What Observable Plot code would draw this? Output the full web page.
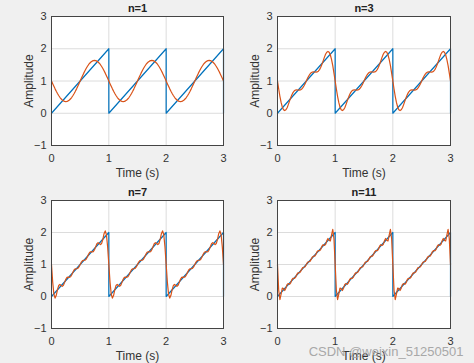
<!DOCTYPE html>
<html>
<head>
<meta charset="utf-8">
<script src="https://cdn.jsdelivr.net/npm/d3@7"></script>
<script src="https://cdn.jsdelivr.net/npm/@observablehq/plot@0.6"></script>
<style>
html, body { margin: 0; padding: 0; background: #f0f0f0; }
#fig { position: relative; width: 474px; height: 363px; background: #f0f0f0; overflow: hidden; }
#fig svg { position: absolute; }
</style>
</head>
<body>
<div id="fig"></div>
<script>
// ---- data ----
const sawTime  = [0, 1, 1, 2, 2, 3, 3];
const sawValue = [0, 2, 0, 2, 0, 2, 0];
const samplesPerSecond = 48;

const approxN1 = [
1.000,.917,.835,.756,.682,.612,.550,.495,.449,.412,.385,.369,.363,.369,.385,.412,.449,.495,.550,.612,.682,.756,.835,.917,1.000,1.083,1.165,1.244,1.318,1.388,1.450,1.505,1.551,1.588,1.615,1.631,1.637,1.631,1.615,1.588,1.551,1.505,1.450,1.388,1.318,1.244,1.165,1.083,
1.000,.917,.835,.756,.682,.612,.550,.495,.449,.412,.385,.369,.363,.369,.385,.412,.449,.495,.550,.612,.682,.756,.835,.917,1.000,1.083,1.165,1.244,1.318,1.388,1.450,1.505,1.551,1.588,1.615,1.631,1.637,1.631,1.615,1.588,1.551,1.505,1.450,1.388,1.318,1.244,1.165,1.083,
1.000,.917,.835,.756,.682,.612,.550,.495,.449,.412,.385,.369,.363,.369,.385,.412,.449,.495,.550,.612,.682,.756,.835,.917,1.000,1.083,1.165,1.244,1.318,1.388,1.450,1.505,1.551,1.588,1.615,1.631,1.637,1.631,1.615,1.588,1.551,1.505,1.450,1.388,1.318,1.244,1.165,1.083,
1.000];

const approxN3 = [
1.000,.753,.526,.335,.194,.109,.082,.106,.173,.268,.376,.483,.576,.647,.694,.718,.724,.721,.718,.724,.745,.785,.844,.918,1.000,1.082,1.156,1.215,1.255,1.276,1.282,1.279,1.276,1.282,1.306,1.353,1.424,1.517,1.624,1.732,1.827,1.894,1.918,1.891,1.806,1.665,1.474,1.247,
1.000,.753,.526,.335,.194,.109,.082,.106,.173,.268,.376,.483,.576,.647,.694,.718,.724,.721,.718,.724,.745,.785,.844,.918,1.000,1.082,1.156,1.215,1.255,1.276,1.282,1.279,1.276,1.282,1.306,1.353,1.424,1.517,1.624,1.732,1.827,1.894,1.918,1.891,1.806,1.665,1.474,1.247,
1.000,.753,.526,.335,.194,.109,.082,.106,.173,.268,.376,.483,.576,.647,.694,.718,.724,.721,.718,.724,.745,.785,.844,.918,1.000,1.082,1.156,1.215,1.255,1.276,1.282,1.279,1.276,1.282,1.306,1.353,1.424,1.517,1.624,1.732,1.827,1.894,1.918,1.891,1.806,1.665,1.474,1.247,
1.000];

const approxN7 = [
1.000,.449,.071,-.051,.038,.211,.342,.375,.342,.317,.351,.441,.539,.597,.606,.599,.618,.681,.766,.835,.865,.867,.877,.923,1.000,1.077,1.123,1.133,1.135,1.165,1.234,1.319,1.382,1.401,1.394,1.403,1.461,1.559,1.649,1.683,1.658,1.625,1.658,1.789,1.962,2.051,1.929,1.551,
1.000,.449,.071,-.051,.038,.211,.342,.375,.342,.317,.351,.441,.539,.597,.606,.599,.618,.681,.766,.835,.865,.867,.877,.923,1.000,1.077,1.123,1.133,1.135,1.165,1.234,1.319,1.382,1.401,1.394,1.403,1.461,1.559,1.649,1.683,1.658,1.625,1.658,1.789,1.962,2.051,1.929,1.551,
1.000,.449,.071,-.051,.038,.211,.342,.375,.342,.317,.351,.441,.539,.597,.606,.599,.618,.681,.766,.835,.865,.867,.877,.923,1.000,1.077,1.123,1.133,1.135,1.165,1.234,1.319,1.382,1.401,1.394,1.403,1.461,1.559,1.649,1.683,1.658,1.625,1.658,1.789,1.962,2.051,1.929,1.551,
1.000];

const approxN11 = [
1.000,.196,-.095,.074,.262,.245,.187,.260,.379,.405,.382,.429,.526,.570,.563,.597,.682,.736,.739,.764,.840,.903,.913,.931,1.000,1.069,1.087,1.097,1.160,1.236,1.261,1.264,1.318,1.403,1.437,1.430,1.474,1.571,1.618,1.595,1.621,1.740,1.813,1.755,1.738,1.926,2.095,1.804,
1.000,.196,-.095,.074,.262,.245,.187,.260,.379,.405,.382,.429,.526,.570,.563,.597,.682,.736,.739,.764,.840,.903,.913,.931,1.000,1.069,1.087,1.097,1.160,1.236,1.261,1.264,1.318,1.403,1.437,1.430,1.474,1.571,1.618,1.595,1.621,1.740,1.813,1.755,1.738,1.926,2.095,1.804,
1.000,.196,-.095,.074,.262,.245,.187,.260,.379,.405,.382,.429,.526,.570,.563,.597,.682,.736,.739,.764,.840,.903,.913,.931,1.000,1.069,1.087,1.097,1.160,1.236,1.261,1.264,1.318,1.403,1.437,1.430,1.474,1.571,1.618,1.595,1.621,1.740,1.813,1.755,1.738,1.926,2.095,1.804,
1.000];

const titles = ["n=1", "n=3", "n=7", "n=11"];
const xTicks = [0, 1, 2, 3];
const yTicks = [-1, 0, 1, 2, 3];
const xLabel = "Time (s)";
const yLabel = "Amplitude";
const watermark = "CSDN @weixin_51250501";

// ---- layout ----
const series = [approxN1, approxN3, approxN7, approxN11];
const panels = [
  {left: 0,   top: 0,   width: 237, height: 180, ml: 51, mr: 14, mt: 16, mb: 35},
  {left: 237, top: 0,   width: 237, height: 180, ml: 40, mr: 24, mt: 16, mb: 35},
  {left: 0,   top: 180, width: 237, height: 183, ml: 51, mr: 14, mt: 20, mb: 35},
  {left: 237, top: 180, width: 237, height: 183, ml: 40, mr: 24, mt: 20, mb: 35}
];
const font = "'Liberation Sans', Arial, Helvetica, sans-serif";
const textColor = "#333333";
const sawData = sawTime.map((t, i) => ({t, v: sawValue[i]}));

const fig = document.getElementById("fig");
panels.forEach((p, k) => {
  const marks = [
    Plot.frame({fill: "white", stroke: null}),
    Plot.gridX(xTicks, {stroke: "#dcdcdc", strokeOpacity: 1}),
    Plot.gridY(yTicks, {stroke: "#dcdcdc", strokeOpacity: 1}),
    Plot.line(sawData, {x: "t", y: "v", stroke: "#0072BD", strokeWidth: 1.2}),
    Plot.line(series[k], {x: (d, i) => i / samplesPerSecond, y: d => d, stroke: "#D95319", strokeWidth: 1.2}),
    Plot.frame({stroke: "#444444"}),
    Plot.axisX(xTicks, {tickSize: 0, tickPadding: 8.5, label: null, fontSize: 11, fill: textColor}),
    Plot.axisY(yTicks, {tickSize: 0, tickPadding: 5, label: null, fontSize: 11, fill: textColor}),
    Plot.text([titles[k]], {text: d => d, frameAnchor: "top", lineAnchor: "middle", textAnchor: "middle", dy: -8, fontSize: 11, fontWeight: "bold", fill: "#222"}),
    Plot.text([xLabel], {text: d => d, frameAnchor: "bottom", lineAnchor: "middle", textAnchor: "middle", dy: 28, fontSize: 12, fill: textColor}),
    Plot.text([yLabel], {text: d => d, frameAnchor: "left", lineAnchor: "middle", textAnchor: "middle", dx: -22, rotate: -90, fontSize: 12, fill: textColor})
  ];
  if (k === 3) {
    marks.push(Plot.text([watermark], {text: d => d, frameAnchor: "bottom-right", lineAnchor: "middle", textAnchor: "end", dx: 13, dy: 23, fontSize: 13, fill: "#a8a8a8"}));
  }
  const svg = Plot.plot({
    width: p.width, height: p.height,
    marginLeft: p.ml, marginRight: p.mr, marginTop: p.mt, marginBottom: p.mb,
    style: {background: "transparent", fontFamily: font, overflow: "visible"},
    x: {domain: [0, 3]},
    y: {domain: [-1, 3]},
    marks
  });
  svg.style.left = p.left + "px";
  svg.style.top = p.top + "px";
  fig.appendChild(svg);
});
</script>
</body>
</html>
